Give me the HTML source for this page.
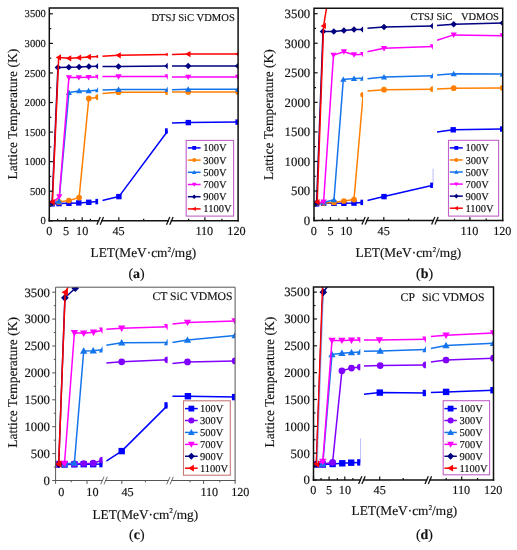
<!DOCTYPE html>
<html><head><meta charset="utf-8"><title>Lattice Temperature vs LET</title>
<style>html,body{margin:0;padding:0;background:#fff;width:517px;height:550px;overflow:hidden}svg{display:block;text-rendering:geometricPrecision}</style>
</head><body>
<svg width="517" height="550" viewBox="0 0 517 550">
<rect width="517" height="550" fill="#fff"/>
<clipPath id="c0">
<rect x="49.3" y="8" width="48.8" height="212.8"/>
<rect x="102.3" y="8" width="65.4" height="212.8"/>
<rect x="171.9" y="8" width="66.2" height="212.8"/>
</clipPath>
<clipPath id="f0"><rect x="49.3" y="8" width="188.8" height="212.8"/></clipPath>
<g clip-path="url(#c0)">
<polyline points="52.1,203.9 59,203.6 68.9,203.3 78.8,202.9 88.8,202.3 98.1,201.6" fill="none" stroke="#0000ff" stroke-width="1.5" stroke-linejoin="round"/>
<polyline points="102.3,200.4 118.9,196.6 167.7,131" fill="none" stroke="#0000ff" stroke-width="1.5" stroke-linejoin="round"/>
<polyline points="171.8,123 188.3,122.6 238.1,122.1" fill="none" stroke="#0000ff" stroke-width="1.5" stroke-linejoin="round"/>
<rect x="49.4" y="201.2" width="5.4" height="5.4" fill="#0000ff"/>
<rect x="56.3" y="200.9" width="5.4" height="5.4" fill="#0000ff"/>
<rect x="66.2" y="200.6" width="5.4" height="5.4" fill="#0000ff"/>
<rect x="76.1" y="200.2" width="5.4" height="5.4" fill="#0000ff"/>
<rect x="86.1" y="199.6" width="5.4" height="5.4" fill="#0000ff"/>
<rect x="95.4" y="198.9" width="5.4" height="5.4" fill="#0000ff"/>
<rect x="116.2" y="193.9" width="5.4" height="5.4" fill="#0000ff"/>
<rect x="165" y="128.3" width="5.4" height="5.4" fill="#0000ff"/>
<rect x="185.6" y="119.9" width="5.4" height="5.4" fill="#0000ff"/>
<rect x="235.4" y="119.4" width="5.4" height="5.4" fill="#0000ff"/>
<polyline points="52.1,203 59,201.9 68.9,200.5 79.1,197.6 88.8,98.4 98.1,97.2" fill="none" stroke="#ff8000" stroke-width="1.5" stroke-linejoin="round"/>
<polyline points="102.3,93.6 118.5,92.2 167.7,92.2" fill="none" stroke="#ff8000" stroke-width="1.5" stroke-linejoin="round"/>
<polyline points="171.9,92 188.2,92 238.1,92" fill="none" stroke="#ff8000" stroke-width="1.5" stroke-linejoin="round"/>
<circle cx="52.1" cy="203" r="2.84" fill="#ff8000"/>
<circle cx="59" cy="201.9" r="2.84" fill="#ff8000"/>
<circle cx="68.9" cy="200.5" r="2.84" fill="#ff8000"/>
<circle cx="79.1" cy="197.6" r="2.84" fill="#ff8000"/>
<circle cx="88.8" cy="98.4" r="2.84" fill="#ff8000"/>
<circle cx="98.1" cy="97.2" r="2.84" fill="#ff8000"/>
<circle cx="118.5" cy="92.2" r="2.84" fill="#ff8000"/>
<circle cx="167.7" cy="92.2" r="2.84" fill="#ff8000"/>
<circle cx="188.2" cy="92" r="2.84" fill="#ff8000"/>
<circle cx="238.1" cy="92" r="2.84" fill="#ff8000"/>
<polyline points="52.1,203 59,201.3 68.9,92.6 79.1,90.9 88.6,90.9 98.1,90" fill="none" stroke="#1474ec" stroke-width="1.5" stroke-linejoin="round"/>
<polyline points="102.3,90.1 118.5,89.6 167.7,89.6" fill="none" stroke="#1474ec" stroke-width="1.5" stroke-linejoin="round"/>
<polyline points="171.9,89.8 188.2,89.3 238.1,89.3" fill="none" stroke="#1474ec" stroke-width="1.5" stroke-linejoin="round"/>
<polygon points="52.1,199.9 55.2,205.33 49,205.33" fill="#1474ec"/>
<polygon points="59,198.2 62.1,203.63 55.9,203.63" fill="#1474ec"/>
<polygon points="68.9,89.49 72.01,94.93 65.8,94.93" fill="#1474ec"/>
<polygon points="79.1,87.8 82.2,93.23 75.99,93.23" fill="#1474ec"/>
<polygon points="88.6,87.8 91.7,93.23 85.49,93.23" fill="#1474ec"/>
<polygon points="98.1,86.89 101.2,92.33 94.99,92.33" fill="#1474ec"/>
<polygon points="118.5,86.49 121.61,91.93 115.39,91.93" fill="#1474ec"/>
<polygon points="167.7,86.49 170.8,91.93 164.59,91.93" fill="#1474ec"/>
<polygon points="188.2,86.19 191.3,91.63 185.09,91.63" fill="#1474ec"/>
<polygon points="238.1,86.19 241.2,91.63 235,91.63" fill="#1474ec"/>
<polyline points="52.1,203 59.3,196.7 68.9,77.5 78.8,77.5 88.6,77.3 98.1,77" fill="none" stroke="#ff00ff" stroke-width="1.5" stroke-linejoin="round"/>
<polyline points="102.3,76.6 118.5,76.6 167.7,76.6" fill="none" stroke="#ff00ff" stroke-width="1.5" stroke-linejoin="round"/>
<polyline points="171.9,77 188.2,77 238.1,77" fill="none" stroke="#ff00ff" stroke-width="1.5" stroke-linejoin="round"/>
<polygon points="52.1,206.1 55.2,200.67 49,200.67" fill="#ff00ff"/>
<polygon points="59.3,199.8 62.4,194.37 56.2,194.37" fill="#ff00ff"/>
<polygon points="68.9,80.61 72.01,75.17 65.8,75.17" fill="#ff00ff"/>
<polygon points="78.8,80.61 81.91,75.17 75.69,75.17" fill="#ff00ff"/>
<polygon points="88.6,80.41 91.7,74.97 85.49,74.97" fill="#ff00ff"/>
<polygon points="98.1,80.11 101.2,74.67 94.99,74.67" fill="#ff00ff"/>
<polygon points="118.5,79.7 121.61,74.27 115.39,74.27" fill="#ff00ff"/>
<polygon points="167.7,79.7 170.8,74.27 164.59,74.27" fill="#ff00ff"/>
<polygon points="188.2,80.11 191.3,74.67 185.09,74.67" fill="#ff00ff"/>
<polygon points="238.1,80.11 241.2,74.67 235,74.67" fill="#ff00ff"/>
<polyline points="52.1,203 57.9,67.6 68.9,67.2 79.1,67 88.9,66.4 98.1,66.2" fill="none" stroke="#000080" stroke-width="1.5" stroke-linejoin="round"/>
<polyline points="102.3,66.5 118.5,66.5 167.7,66.1" fill="none" stroke="#000080" stroke-width="1.5" stroke-linejoin="round"/>
<polyline points="171.9,66.1 188.2,66.1 238.1,66.1" fill="none" stroke="#000080" stroke-width="1.5" stroke-linejoin="round"/>
<polygon points="52.1,199.76 55.34,203 52.1,206.24 48.86,203" fill="#000080"/>
<polygon points="57.9,64.36 61.14,67.6 57.9,70.84 54.66,67.6" fill="#000080"/>
<polygon points="68.9,63.96 72.14,67.2 68.9,70.44 65.66,67.2" fill="#000080"/>
<polygon points="79.1,63.76 82.34,67 79.1,70.24 75.86,67" fill="#000080"/>
<polygon points="88.9,63.16 92.14,66.4 88.9,69.64 85.66,66.4" fill="#000080"/>
<polygon points="98.1,62.96 101.34,66.2 98.1,69.44 94.86,66.2" fill="#000080"/>
<polygon points="118.5,63.26 121.74,66.5 118.5,69.74 115.26,66.5" fill="#000080"/>
<polygon points="167.7,62.86 170.94,66.1 167.7,69.34 164.46,66.1" fill="#000080"/>
<polygon points="188.2,62.86 191.44,66.1 188.2,69.34 184.96,66.1" fill="#000080"/>
<polygon points="238.1,62.86 241.34,66.1 238.1,69.34 234.86,66.1" fill="#000080"/>
<polyline points="52.4,202.1 58.7,57.4 68.9,58.3 78.8,57.7 88.6,56.9 98.1,56.6" fill="none" stroke="#ff0000" stroke-width="1.5" stroke-linejoin="round"/>
<polyline points="102.3,56.2 118.5,55.3 167.7,54.4" fill="none" stroke="#ff0000" stroke-width="1.5" stroke-linejoin="round"/>
<polyline points="171.9,54.5 188.2,54.1 238.1,54.1" fill="none" stroke="#ff0000" stroke-width="1.5" stroke-linejoin="round"/>
<polygon points="49.3,202.1 54.73,199 54.73,205.2" fill="#ff0000"/>
<polygon points="55.6,57.4 61.03,54.3 61.03,60.5" fill="#ff0000"/>
<polygon points="65.8,58.3 71.23,55.2 71.23,61.4" fill="#ff0000"/>
<polygon points="75.69,57.7 81.13,54.6 81.13,60.8" fill="#ff0000"/>
<polygon points="85.49,56.9 90.93,53.8 90.93,60" fill="#ff0000"/>
<polygon points="94.99,56.6 100.43,53.5 100.43,59.7" fill="#ff0000"/>
<polygon points="115.39,55.3 120.83,52.2 120.83,58.4" fill="#ff0000"/>
<polygon points="164.59,54.4 170.03,51.3 170.03,57.5" fill="#ff0000"/>
<polygon points="185.09,54.1 190.53,51 190.53,57.2" fill="#ff0000"/>
<polygon points="235,54.1 240.43,51 240.43,57.2" fill="#ff0000"/>
</g>
<g stroke="#111" stroke-width="1.5" fill="none" stroke-linecap="square">
<polyline points="49.3,220.8 49.3,8 238.1,8 238.1,220.8"/>
<line x1="49.3" y1="220.8" x2="98.55" y2="220.8"/>
<line x1="101.85" y1="220.8" x2="168.15" y2="220.8"/>
<line x1="171.45" y1="220.8" x2="238.1" y2="220.8"/>
</g>
<g stroke="#111" stroke-width="1.27" fill="none">
<line x1="100.2" y1="217.1" x2="96.9" y2="224.7"/>
<line x1="103.5" y1="217.1" x2="100.2" y2="224.7"/>
<line x1="169.8" y1="217.1" x2="166.5" y2="224.7"/>
<line x1="173.1" y1="217.1" x2="169.8" y2="224.7"/>
</g>
<g stroke="#111" stroke-width="1.2">
<line x1="49.3" y1="220.8" x2="49.3" y2="217.2"/>
<line x1="57.6" y1="220.8" x2="57.6" y2="218.8"/>
<line x1="65.8" y1="220.8" x2="65.8" y2="217.2"/>
<line x1="74" y1="220.8" x2="74" y2="218.8"/>
<line x1="82.2" y1="220.8" x2="82.2" y2="217.2"/>
<line x1="90.4" y1="220.8" x2="90.4" y2="218.8"/>
<line x1="118.8" y1="220.8" x2="118.8" y2="217.2"/>
<line x1="143.7" y1="220.8" x2="143.7" y2="218.8"/>
<line x1="188.6" y1="220.8" x2="188.6" y2="218.8"/>
<line x1="204.9" y1="220.8" x2="204.9" y2="217.2"/>
<line x1="221.9" y1="220.8" x2="221.9" y2="218.8"/>
<line x1="49.3" y1="220.8" x2="52.9" y2="220.8"/>
<line x1="49.3" y1="206.02" x2="51.3" y2="206.02"/>
<line x1="49.3" y1="191.23" x2="52.9" y2="191.23"/>
<line x1="49.3" y1="176.45" x2="51.3" y2="176.45"/>
<line x1="49.3" y1="161.66" x2="52.9" y2="161.66"/>
<line x1="49.3" y1="146.88" x2="51.3" y2="146.88"/>
<line x1="49.3" y1="132.09" x2="52.9" y2="132.09"/>
<line x1="49.3" y1="117.31" x2="51.3" y2="117.31"/>
<line x1="49.3" y1="102.52" x2="52.9" y2="102.52"/>
<line x1="49.3" y1="87.74" x2="51.3" y2="87.74"/>
<line x1="49.3" y1="72.95" x2="52.9" y2="72.95"/>
<line x1="49.3" y1="58.17" x2="51.3" y2="58.17"/>
<line x1="49.3" y1="43.38" x2="52.9" y2="43.38"/>
<line x1="49.3" y1="28.59" x2="51.3" y2="28.59"/>
<line x1="49.3" y1="13.81" x2="52.9" y2="13.81"/>
</g>
<g font-family='"Liberation Serif", "Times New Roman", serif' fill="#111" stroke="#111" stroke-width="0.16">
<text x="45.8" y="224.4" font-size="10.6" text-anchor="end">0</text>
<text x="45.8" y="194.83" font-size="10.6" text-anchor="end">500</text>
<text x="45.8" y="165.26" font-size="10.6" text-anchor="end">1000</text>
<text x="45.8" y="135.69" font-size="10.6" text-anchor="end">1500</text>
<text x="45.8" y="106.12" font-size="10.6" text-anchor="end">2000</text>
<text x="45.8" y="76.55" font-size="10.6" text-anchor="end">2500</text>
<text x="45.8" y="46.98" font-size="10.6" text-anchor="end">3000</text>
<text x="45.8" y="17.41" font-size="10.6" text-anchor="end">3500</text>
<text x="49.3" y="234.9" font-size="12.2" text-anchor="middle">0</text>
<text x="66" y="234.9" font-size="12.2" text-anchor="middle">5</text>
<text x="82.2" y="234.9" font-size="12.2" text-anchor="middle">10</text>
<text x="118.6" y="234.9" font-size="12.2" text-anchor="middle">45</text>
<text x="204.3" y="234.9" font-size="12.2" text-anchor="middle">110</text>
<text x="236.5" y="234.9" font-size="12.2" text-anchor="middle">120</text>
<text x="143.4" y="257" font-size="13.3" text-anchor="middle">LET(MeV·cm<tspan font-size="7.45" dy="-5.4">2</tspan><tspan dy="5.4">/mg)</tspan></text>
<text transform="translate(17.1,114.2) rotate(-90)" font-size="13.5" text-anchor="middle">Lattice Temperature (K)</text>
<text x="136.5" y="278" font-size="13.9" text-anchor="middle">(<tspan font-weight="bold">a</tspan>)</text>
<text x="234.8" y="20.5" font-size="10.6" text-anchor="end">DTSJ SiC VDMOS</text>
</g>
<rect x="186.2" y="140.4" width="47.4" height="75.7" fill="#fff" stroke="#c060c8" stroke-width="1.1"/>
<g font-family='"Liberation Serif", "Times New Roman", serif' fill="#111" font-size="10.5">
<line x1="187.8" y1="147.9" x2="200.6" y2="147.9" stroke="#0000ff" stroke-width="1.5"/>
<rect x="192.3" y="146" width="3.8" height="3.8" fill="#0000ff"/>
<text x="203.3" y="151.47" stroke="#111" stroke-width="0.16">100V</text>
<line x1="187.8" y1="160.1" x2="200.6" y2="160.1" stroke="#ff8000" stroke-width="1.5"/>
<circle cx="194.2" cy="160.1" r="1.99" fill="#ff8000"/>
<text x="203.3" y="163.67" stroke="#111" stroke-width="0.16">300V</text>
<line x1="187.8" y1="172.3" x2="200.6" y2="172.3" stroke="#1474ec" stroke-width="1.5"/>
<polygon points="194.2,170.12 196.38,173.94 192.01,173.94" fill="#1474ec"/>
<text x="203.3" y="175.87" stroke="#111" stroke-width="0.16">500V</text>
<line x1="187.8" y1="184.5" x2="200.6" y2="184.5" stroke="#ff00ff" stroke-width="1.5"/>
<polygon points="194.2,186.69 196.38,182.86 192.01,182.86" fill="#ff00ff"/>
<text x="203.3" y="188.07" stroke="#111" stroke-width="0.16">700V</text>
<line x1="187.8" y1="196.7" x2="200.6" y2="196.7" stroke="#000080" stroke-width="1.5"/>
<polygon points="194.2,194.42 196.48,196.7 194.2,198.98 191.92,196.7" fill="#000080"/>
<text x="203.3" y="200.27" stroke="#111" stroke-width="0.16">900V</text>
<line x1="187.8" y1="208.9" x2="200.6" y2="208.9" stroke="#ff0000" stroke-width="1.5"/>
<polygon points="192.01,208.9 195.84,206.72 195.84,211.09" fill="#ff0000"/>
<text x="203.3" y="212.47" stroke="#111" stroke-width="0.16">1100V</text>
</g>
<clipPath id="c1">
<rect x="314" y="8.2" width="49.1" height="212.4"/>
<rect x="367.3" y="8.2" width="65.6" height="212.4"/>
<rect x="437" y="8.2" width="65.7" height="212.4"/>
</clipPath>
<clipPath id="f1"><rect x="314" y="8.2" width="188.7" height="212.4"/></clipPath>
<g clip-path="url(#c1)">
<polyline points="316.6,203.9 323.6,203.3 334,203.3 343.9,203.3 354,203.1 363.1,202.4" fill="none" stroke="#0000ff" stroke-width="1.5" stroke-linejoin="round"/>
<polyline points="367.3,200.6 384,196.6 432.9,185.3" fill="none" stroke="#0000ff" stroke-width="1.5" stroke-linejoin="round"/>
<polyline points="437,132.1 453.2,129.8 502.7,129" fill="none" stroke="#0000ff" stroke-width="1.5" stroke-linejoin="round"/>
<rect x="313.9" y="201.2" width="5.4" height="5.4" fill="#0000ff"/>
<rect x="320.9" y="200.6" width="5.4" height="5.4" fill="#0000ff"/>
<rect x="331.3" y="200.6" width="5.4" height="5.4" fill="#0000ff"/>
<rect x="341.2" y="200.6" width="5.4" height="5.4" fill="#0000ff"/>
<rect x="351.3" y="200.4" width="5.4" height="5.4" fill="#0000ff"/>
<rect x="360.4" y="199.7" width="5.4" height="5.4" fill="#0000ff"/>
<rect x="381.3" y="193.9" width="5.4" height="5.4" fill="#0000ff"/>
<rect x="430.2" y="182.6" width="5.4" height="5.4" fill="#0000ff"/>
<rect x="450.5" y="127.1" width="5.4" height="5.4" fill="#0000ff"/>
<rect x="500" y="126.3" width="5.4" height="5.4" fill="#0000ff"/>
<polyline points="316.6,203 323.6,203 334,202.4 343.9,201 354,199.6 363.1,94.8" fill="none" stroke="#ff8000" stroke-width="1.5" stroke-linejoin="round"/>
<polyline points="367.3,91 384,89.7 432.9,89.2" fill="none" stroke="#ff8000" stroke-width="1.5" stroke-linejoin="round"/>
<polyline points="437,88.9 453.7,88.2 502.7,87.9" fill="none" stroke="#ff8000" stroke-width="1.5" stroke-linejoin="round"/>
<circle cx="316.6" cy="203" r="2.84" fill="#ff8000"/>
<circle cx="323.6" cy="203" r="2.84" fill="#ff8000"/>
<circle cx="334" cy="202.4" r="2.84" fill="#ff8000"/>
<circle cx="343.9" cy="201" r="2.84" fill="#ff8000"/>
<circle cx="354" cy="199.6" r="2.84" fill="#ff8000"/>
<circle cx="363.1" cy="94.8" r="2.84" fill="#ff8000"/>
<circle cx="384" cy="89.7" r="2.84" fill="#ff8000"/>
<circle cx="432.9" cy="89.2" r="2.84" fill="#ff8000"/>
<circle cx="453.7" cy="88.2" r="2.84" fill="#ff8000"/>
<circle cx="502.7" cy="87.9" r="2.84" fill="#ff8000"/>
<polyline points="316.6,203 323.6,202.5 334,199.8 343.3,79.5 354,78.6 363.1,78.3" fill="none" stroke="#1474ec" stroke-width="1.5" stroke-linejoin="round"/>
<polyline points="367.3,78.8 384,77.1 432.9,75.8" fill="none" stroke="#1474ec" stroke-width="1.5" stroke-linejoin="round"/>
<polyline points="437,75.1 453.7,73.8 502.7,74.1" fill="none" stroke="#1474ec" stroke-width="1.5" stroke-linejoin="round"/>
<polygon points="316.6,199.9 319.71,205.33 313.5,205.33" fill="#1474ec"/>
<polygon points="323.6,199.4 326.71,204.83 320.5,204.83" fill="#1474ec"/>
<polygon points="334,196.7 337.11,202.13 330.89,202.13" fill="#1474ec"/>
<polygon points="343.3,76.39 346.41,81.83 340.19,81.83" fill="#1474ec"/>
<polygon points="354,75.49 357.11,80.93 350.89,80.93" fill="#1474ec"/>
<polygon points="363.1,75.19 366.21,80.63 360,80.63" fill="#1474ec"/>
<polygon points="384,73.99 387.11,79.43 380.89,79.43" fill="#1474ec"/>
<polygon points="432.9,72.69 436,78.13 429.79,78.13" fill="#1474ec"/>
<polygon points="453.7,70.69 456.81,76.13 450.59,76.13" fill="#1474ec"/>
<polygon points="502.7,70.99 505.81,76.43 499.59,76.43" fill="#1474ec"/>
<polyline points="316.6,203 323.6,201.9 333.5,55.1 343.9,51.7 354,54.7 363.1,54.3" fill="none" stroke="#ff00ff" stroke-width="1.5" stroke-linejoin="round"/>
<polyline points="367.3,51.8 384,48.3 432.9,46.6" fill="none" stroke="#ff00ff" stroke-width="1.5" stroke-linejoin="round"/>
<polyline points="437,40.3 453.7,34.9 502.7,35.7" fill="none" stroke="#ff00ff" stroke-width="1.5" stroke-linejoin="round"/>
<polygon points="316.6,206.1 319.71,200.67 313.5,200.67" fill="#ff00ff"/>
<polygon points="323.6,205 326.71,199.57 320.5,199.57" fill="#ff00ff"/>
<polygon points="333.5,58.2 336.61,52.77 330.39,52.77" fill="#ff00ff"/>
<polygon points="343.9,54.8 347,49.37 340.79,49.37" fill="#ff00ff"/>
<polygon points="354,57.8 357.11,52.37 350.89,52.37" fill="#ff00ff"/>
<polygon points="363.1,57.4 366.21,51.97 360,51.97" fill="#ff00ff"/>
<polygon points="384,51.4 387.11,45.97 380.89,45.97" fill="#ff00ff"/>
<polygon points="432.9,49.7 436,44.27 429.79,44.27" fill="#ff00ff"/>
<polygon points="453.7,38 456.81,32.57 450.59,32.57" fill="#ff00ff"/>
<polygon points="502.7,38.8 505.81,33.37 499.59,33.37" fill="#ff00ff"/>
<polyline points="316.6,203 323,31.5 333.8,31.5 343.9,30.5 354,29.6 363.1,29.4" fill="none" stroke="#000080" stroke-width="1.5" stroke-linejoin="round"/>
<polyline points="367.3,28.3 384,27.1 432.9,26" fill="none" stroke="#000080" stroke-width="1.5" stroke-linejoin="round"/>
<polyline points="437,25.5 453.7,24.2 502.7,23.1" fill="none" stroke="#000080" stroke-width="1.5" stroke-linejoin="round"/>
<polygon points="316.6,199.76 319.84,203 316.6,206.24 313.36,203" fill="#000080"/>
<polygon points="323,28.26 326.24,31.5 323,34.74 319.76,31.5" fill="#000080"/>
<polygon points="333.8,28.26 337.04,31.5 333.8,34.74 330.56,31.5" fill="#000080"/>
<polygon points="343.9,27.26 347.14,30.5 343.9,33.74 340.66,30.5" fill="#000080"/>
<polygon points="354,26.36 357.24,29.6 354,32.84 350.76,29.6" fill="#000080"/>
<polygon points="363.1,26.16 366.34,29.4 363.1,32.64 359.86,29.4" fill="#000080"/>
<polygon points="384,23.86 387.24,27.1 384,30.34 380.76,27.1" fill="#000080"/>
<polygon points="432.9,22.76 436.14,26 432.9,29.24 429.66,26" fill="#000080"/>
<polygon points="453.7,20.96 456.94,24.2 453.7,27.44 450.46,24.2" fill="#000080"/>
<polygon points="502.7,19.86 505.94,23.1 502.7,26.34 499.46,23.1" fill="#000080"/>
<polyline points="317.2,202.1 323.6,25.9 329.5,-10" fill="none" stroke="#ff0000" stroke-width="1.5" stroke-linejoin="round"/>
<polygon points="314.09,202.1 319.53,199 319.53,205.2" fill="#ff0000"/>
<polygon points="320.5,25.9 325.93,22.79 325.93,29" fill="#ff0000"/>
</g>
<line x1="433.1" y1="185.3" x2="433.1" y2="168.7" stroke="#0000ff" stroke-opacity="0.35" stroke-width="0.8"/>
<g stroke="#111" stroke-width="1.5" fill="none" stroke-linecap="square">
<polyline points="314,220.6 314,8.2 502.7,8.2 502.7,220.6"/>
<line x1="314" y1="220.6" x2="363.55" y2="220.6"/>
<line x1="366.85" y1="220.6" x2="433.25" y2="220.6"/>
<line x1="436.55" y1="220.6" x2="502.7" y2="220.6"/>
</g>
<g stroke="#111" stroke-width="1.27" fill="none">
<line x1="365.2" y1="216.9" x2="361.9" y2="224.5"/>
<line x1="368.5" y1="216.9" x2="365.2" y2="224.5"/>
<line x1="434.9" y1="216.9" x2="431.6" y2="224.5"/>
<line x1="438.2" y1="216.9" x2="434.9" y2="224.5"/>
</g>
<g stroke="#111" stroke-width="1.2">
<line x1="314.1" y1="220.6" x2="314.1" y2="217"/>
<line x1="322.4" y1="220.6" x2="322.4" y2="218.6"/>
<line x1="330.5" y1="220.6" x2="330.5" y2="217"/>
<line x1="338.8" y1="220.6" x2="338.8" y2="218.6"/>
<line x1="347.2" y1="220.6" x2="347.2" y2="217"/>
<line x1="355.7" y1="220.6" x2="355.7" y2="218.6"/>
<line x1="383.8" y1="220.6" x2="383.8" y2="217"/>
<line x1="408.6" y1="220.6" x2="408.6" y2="218.6"/>
<line x1="454.5" y1="220.6" x2="454.5" y2="218.6"/>
<line x1="469.9" y1="220.6" x2="469.9" y2="217"/>
<line x1="486.2" y1="220.6" x2="486.2" y2="218.6"/>
<line x1="314" y1="220.6" x2="317.6" y2="220.6"/>
<line x1="314" y1="205.82" x2="316" y2="205.82"/>
<line x1="314" y1="191.04" x2="317.6" y2="191.04"/>
<line x1="314" y1="176.26" x2="316" y2="176.26"/>
<line x1="314" y1="161.48" x2="317.6" y2="161.48"/>
<line x1="314" y1="146.7" x2="316" y2="146.7"/>
<line x1="314" y1="131.92" x2="317.6" y2="131.92"/>
<line x1="314" y1="117.14" x2="316" y2="117.14"/>
<line x1="314" y1="102.36" x2="317.6" y2="102.36"/>
<line x1="314" y1="87.58" x2="316" y2="87.58"/>
<line x1="314" y1="72.8" x2="317.6" y2="72.8"/>
<line x1="314" y1="58.02" x2="316" y2="58.02"/>
<line x1="314" y1="43.24" x2="317.6" y2="43.24"/>
<line x1="314" y1="28.46" x2="316" y2="28.46"/>
<line x1="314" y1="13.68" x2="317.6" y2="13.68"/>
</g>
<g font-family='"Liberation Serif", "Times New Roman", serif' fill="#111" stroke="#111" stroke-width="0.16">
<text x="310.2" y="224.95" font-size="12.8" text-anchor="end">0</text>
<text x="310.2" y="195.39" font-size="12.8" text-anchor="end">500</text>
<text x="310.2" y="165.83" font-size="12.8" text-anchor="end">1000</text>
<text x="310.2" y="136.27" font-size="12.8" text-anchor="end">1500</text>
<text x="310.2" y="106.71" font-size="12.8" text-anchor="end">2000</text>
<text x="310.2" y="77.15" font-size="12.8" text-anchor="end">2500</text>
<text x="310.2" y="47.59" font-size="12.8" text-anchor="end">3000</text>
<text x="310.2" y="18.03" font-size="12.8" text-anchor="end">3500</text>
<text x="313.7" y="235.2" font-size="12.2" text-anchor="middle">0</text>
<text x="330.5" y="235.2" font-size="12.2" text-anchor="middle">5</text>
<text x="346.3" y="235.2" font-size="12.2" text-anchor="middle">10</text>
<text x="383.7" y="235.2" font-size="12.2" text-anchor="middle">45</text>
<text x="469.5" y="235.2" font-size="12.2" text-anchor="middle">110</text>
<text x="502.3" y="235.2" font-size="12.2" text-anchor="middle">120</text>
<text x="408.4" y="257" font-size="13.3" text-anchor="middle">LET(MeV·cm<tspan font-size="7.45" dy="-5.4">2</tspan><tspan dy="5.4">/mg)</tspan></text>
<text transform="translate(273,114.5) rotate(-90)" font-size="13.5" text-anchor="middle">Lattice Temperature (K)</text>
<text x="424.6" y="278" font-size="13.9" text-anchor="middle">(<tspan font-weight="bold">b</tspan>)</text>
<text x="452.3" y="19.6" font-size="10.5" text-anchor="end">CTSJ SiC</text>
<text x="498.9" y="19.6" font-size="10.5" text-anchor="end">VDMOS</text>
</g>
<rect x="448.5" y="140.3" width="50.1" height="75.8" fill="#fff" stroke="#c060c8" stroke-width="1.1"/>
<g font-family='"Liberation Serif", "Times New Roman", serif' fill="#111" font-size="10.5">
<line x1="449.8" y1="147.9" x2="462.8" y2="147.9" stroke="#0000ff" stroke-width="1.5"/>
<rect x="454.4" y="146" width="3.8" height="3.8" fill="#0000ff"/>
<text x="465.5" y="151.47" stroke="#111" stroke-width="0.16">100V</text>
<line x1="449.8" y1="159.96" x2="462.8" y2="159.96" stroke="#ff8000" stroke-width="1.5"/>
<circle cx="456.3" cy="159.96" r="1.99" fill="#ff8000"/>
<text x="465.5" y="163.53" stroke="#111" stroke-width="0.16">300V</text>
<line x1="449.8" y1="172.02" x2="462.8" y2="172.02" stroke="#1474ec" stroke-width="1.5"/>
<polygon points="456.3,169.84 458.49,173.66 454.12,173.66" fill="#1474ec"/>
<text x="465.5" y="175.59" stroke="#111" stroke-width="0.16">500V</text>
<line x1="449.8" y1="184.08" x2="462.8" y2="184.08" stroke="#ff00ff" stroke-width="1.5"/>
<polygon points="456.3,186.27 458.49,182.44 454.12,182.44" fill="#ff00ff"/>
<text x="465.5" y="187.65" stroke="#111" stroke-width="0.16">700V</text>
<line x1="449.8" y1="196.14" x2="462.8" y2="196.14" stroke="#000080" stroke-width="1.5"/>
<polygon points="456.3,193.86 458.58,196.14 456.3,198.42 454.02,196.14" fill="#000080"/>
<text x="465.5" y="199.71" stroke="#111" stroke-width="0.16">900V</text>
<line x1="449.8" y1="208.2" x2="462.8" y2="208.2" stroke="#ff0000" stroke-width="1.5"/>
<polygon points="454.12,208.2 457.94,206.02 457.94,210.39" fill="#ff0000"/>
<text x="465.5" y="211.77" stroke="#111" stroke-width="0.16">1100V</text>
</g>
<clipPath id="c2">
<rect x="55.6" y="287.2" width="46.9" height="193.3"/>
<rect x="106.2" y="287.2" width="61.4" height="193.3"/>
<rect x="172.2" y="287.2" width="62.9" height="193.3"/>
</clipPath>
<clipPath id="f2"><rect x="55.6" y="287.2" width="179.5" height="193.3"/></clipPath>
<g clip-path="url(#c2)">
<polyline points="57,464.5 64.5,464.5 74.4,464.3 83.7,464.2 93.2,464.2 102.5,464.1" fill="none" stroke="#0000ff" stroke-width="1.5" stroke-linejoin="round"/>
<polyline points="106.2,461.1 121.7,451.1 167.6,405.4" fill="none" stroke="#0000ff" stroke-width="1.5" stroke-linejoin="round"/>
<polyline points="172.3,396.2 187.9,396.2 235.1,397.1" fill="none" stroke="#0000ff" stroke-width="1.5" stroke-linejoin="round"/>
<rect x="53.8" y="461.3" width="6.4" height="6.4" fill="#0000ff"/>
<rect x="61.3" y="461.3" width="6.4" height="6.4" fill="#0000ff"/>
<rect x="71.2" y="461.1" width="6.4" height="6.4" fill="#0000ff"/>
<rect x="80.5" y="461" width="6.4" height="6.4" fill="#0000ff"/>
<rect x="90" y="461" width="6.4" height="6.4" fill="#0000ff"/>
<rect x="99.3" y="460.9" width="6.4" height="6.4" fill="#0000ff"/>
<rect x="118.5" y="447.9" width="6.4" height="6.4" fill="#0000ff"/>
<rect x="164.4" y="402.2" width="6.4" height="6.4" fill="#0000ff"/>
<rect x="184.7" y="393" width="6.4" height="6.4" fill="#0000ff"/>
<rect x="231.9" y="393.9" width="6.4" height="6.4" fill="#0000ff"/>
<polyline points="57,464 64.5,464 74.4,463.8 83.7,463.5 93.2,463.2 102.5,460" fill="none" stroke="#8000ff" stroke-width="1.5" stroke-linejoin="round"/>
<polyline points="106.2,362.9 121.7,361.8 167.6,359.8" fill="none" stroke="#8000ff" stroke-width="1.5" stroke-linejoin="round"/>
<polyline points="172.3,363.5 187.5,361.9 235.1,360.9" fill="none" stroke="#8000ff" stroke-width="1.5" stroke-linejoin="round"/>
<circle cx="57" cy="464" r="3.36" fill="#8000ff"/>
<circle cx="64.5" cy="464" r="3.36" fill="#8000ff"/>
<circle cx="74.4" cy="463.8" r="3.36" fill="#8000ff"/>
<circle cx="83.7" cy="463.5" r="3.36" fill="#8000ff"/>
<circle cx="93.2" cy="463.2" r="3.36" fill="#8000ff"/>
<circle cx="102.5" cy="460" r="3.36" fill="#8000ff"/>
<circle cx="121.7" cy="361.8" r="3.36" fill="#8000ff"/>
<circle cx="167.6" cy="359.8" r="3.36" fill="#8000ff"/>
<circle cx="187.5" cy="361.9" r="3.36" fill="#8000ff"/>
<circle cx="235.1" cy="360.9" r="3.36" fill="#8000ff"/>
<polyline points="57,464 64.5,464 74.4,462.9 83.7,351 93.2,350.7 102.5,349.7" fill="none" stroke="#1474ec" stroke-width="1.5" stroke-linejoin="round"/>
<polyline points="106.2,345.3 121.7,342.8 167.6,342.5" fill="none" stroke="#1474ec" stroke-width="1.5" stroke-linejoin="round"/>
<polyline points="172.3,342.4 187.5,340.1 235.1,335.5" fill="none" stroke="#1474ec" stroke-width="1.5" stroke-linejoin="round"/>
<polygon points="57,460.32 60.68,466.76 53.32,466.76" fill="#1474ec"/>
<polygon points="64.5,460.32 68.18,466.76 60.82,466.76" fill="#1474ec"/>
<polygon points="74.4,459.22 78.08,465.66 70.72,465.66" fill="#1474ec"/>
<polygon points="83.7,347.32 87.38,353.76 80.02,353.76" fill="#1474ec"/>
<polygon points="93.2,347.02 96.88,353.46 89.52,353.46" fill="#1474ec"/>
<polygon points="102.5,346.02 106.18,352.46 98.82,352.46" fill="#1474ec"/>
<polygon points="121.7,339.12 125.38,345.56 118.02,345.56" fill="#1474ec"/>
<polygon points="167.6,338.82 171.28,345.26 163.92,345.26" fill="#1474ec"/>
<polygon points="187.5,336.42 191.18,342.86 183.82,342.86" fill="#1474ec"/>
<polygon points="235.1,331.82 238.78,338.26 231.42,338.26" fill="#1474ec"/>
<polyline points="57,464 64.5,463.5 74.4,332.8 83.7,333.2 93.5,332.2 102.5,330.3" fill="none" stroke="#ff00ff" stroke-width="1.5" stroke-linejoin="round"/>
<polyline points="106.2,329.3 121.7,328.3 167.6,326.7" fill="none" stroke="#ff00ff" stroke-width="1.5" stroke-linejoin="round"/>
<polyline points="172.3,323.9 187.5,322.4 235.1,321" fill="none" stroke="#ff00ff" stroke-width="1.5" stroke-linejoin="round"/>
<polygon points="57,467.68 60.68,461.24 53.32,461.24" fill="#ff00ff"/>
<polygon points="64.5,467.18 68.18,460.74 60.82,460.74" fill="#ff00ff"/>
<polygon points="74.4,336.48 78.08,330.04 70.72,330.04" fill="#ff00ff"/>
<polygon points="83.7,336.88 87.38,330.44 80.02,330.44" fill="#ff00ff"/>
<polygon points="93.5,335.88 97.18,329.44 89.82,329.44" fill="#ff00ff"/>
<polygon points="102.5,333.98 106.18,327.54 98.82,327.54" fill="#ff00ff"/>
<polygon points="121.7,331.98 125.38,325.54 118.02,325.54" fill="#ff00ff"/>
<polygon points="167.6,330.38 171.28,323.94 163.92,323.94" fill="#ff00ff"/>
<polygon points="187.5,326.08 191.18,319.64 183.82,319.64" fill="#ff00ff"/>
<polygon points="235.1,324.68 238.78,318.24 231.42,318.24" fill="#ff00ff"/>
<polyline points="58.7,464.1 64.9,297.8 75.3,288.2 85,278" fill="none" stroke="#000080" stroke-width="1.5" stroke-linejoin="round"/>
<polygon points="58.7,460.26 62.54,464.1 58.7,467.94 54.86,464.1" fill="#000080"/>
<polygon points="64.9,293.96 68.74,297.8 64.9,301.64 61.06,297.8" fill="#000080"/>
<polygon points="75.3,284.36 79.14,288.2 75.3,292.04 71.46,288.2" fill="#000080"/>
<polyline points="58.7,463.9 65.2,292.3 70.9,282" fill="none" stroke="#ff0000" stroke-width="1.5" stroke-linejoin="round"/>
<polygon points="55.02,463.9 61.46,460.22 61.46,467.58" fill="#ff0000"/>
<polygon points="61.52,292.3 67.96,288.62 67.96,295.98" fill="#ff0000"/>
</g>
<g stroke="#555" stroke-width="1" fill="none" stroke-linecap="square">
<polyline points="55.6,480.5 55.6,287.2 235.1,287.2 235.1,480.5"/>
<line x1="55.6" y1="480.5" x2="102.35" y2="480.5"/>
<line x1="105.65" y1="480.5" x2="168.35" y2="480.5"/>
<line x1="171.65" y1="480.5" x2="235.1" y2="480.5"/>
</g>
<g stroke="#555" stroke-width="0.85" fill="none">
<line x1="104" y1="476.8" x2="100.7" y2="484.4"/>
<line x1="107.3" y1="476.8" x2="104" y2="484.4"/>
<line x1="170" y1="476.8" x2="166.7" y2="484.4"/>
<line x1="173.3" y1="476.8" x2="170" y2="484.4"/>
</g>
<g stroke="#555" stroke-width="1">
<line x1="55.6" y1="480.5" x2="55.6" y2="483.9"/>
<line x1="71.2" y1="480.5" x2="71.2" y2="482.3"/>
<line x1="87" y1="480.5" x2="87" y2="483.9"/>
<line x1="121.8" y1="480.5" x2="121.8" y2="483.9"/>
<line x1="145.4" y1="480.5" x2="145.4" y2="482.3"/>
<line x1="190.1" y1="480.5" x2="190.1" y2="482.3"/>
<line x1="203.6" y1="480.5" x2="203.6" y2="483.9"/>
<line x1="219.8" y1="480.5" x2="219.8" y2="482.3"/>
<line x1="235.1" y1="480.5" x2="235.1" y2="483.9"/>
<line x1="55.6" y1="480.5" x2="52.2" y2="480.5"/>
<line x1="55.6" y1="467.05" x2="53.8" y2="467.05"/>
<line x1="55.6" y1="453.6" x2="52.2" y2="453.6"/>
<line x1="55.6" y1="440.15" x2="53.8" y2="440.15"/>
<line x1="55.6" y1="426.7" x2="52.2" y2="426.7"/>
<line x1="55.6" y1="413.25" x2="53.8" y2="413.25"/>
<line x1="55.6" y1="399.8" x2="52.2" y2="399.8"/>
<line x1="55.6" y1="386.35" x2="53.8" y2="386.35"/>
<line x1="55.6" y1="372.9" x2="52.2" y2="372.9"/>
<line x1="55.6" y1="359.45" x2="53.8" y2="359.45"/>
<line x1="55.6" y1="346" x2="52.2" y2="346"/>
<line x1="55.6" y1="332.55" x2="53.8" y2="332.55"/>
<line x1="55.6" y1="319.1" x2="52.2" y2="319.1"/>
<line x1="55.6" y1="305.65" x2="53.8" y2="305.65"/>
<line x1="55.6" y1="292.2" x2="52.2" y2="292.2"/>
</g>
<g font-family='"Liberation Serif", "Times New Roman", serif' fill="#111" stroke="#111" stroke-width="0.16">
<text x="50" y="484.85" font-size="12.8" text-anchor="end">0</text>
<text x="50" y="457.95" font-size="12.8" text-anchor="end">500</text>
<text x="50" y="431.05" font-size="12.8" text-anchor="end">1000</text>
<text x="50" y="404.15" font-size="12.8" text-anchor="end">1500</text>
<text x="50" y="377.25" font-size="12.8" text-anchor="end">2000</text>
<text x="50" y="350.35" font-size="12.8" text-anchor="end">2500</text>
<text x="50" y="323.45" font-size="12.8" text-anchor="end">3000</text>
<text x="50" y="296.55" font-size="12.8" text-anchor="end">3500</text>
<text x="61.3" y="495.8" font-size="12.2" text-anchor="middle">0</text>
<text x="92.4" y="495.8" font-size="12.2" text-anchor="middle">10</text>
<text x="127.5" y="495.8" font-size="12.2" text-anchor="middle">45</text>
<text x="209.3" y="495.8" font-size="12.2" text-anchor="middle">110</text>
<text x="240.3" y="495.8" font-size="12.2" text-anchor="middle">120</text>
<text x="145.3" y="518.7" font-size="13.3" text-anchor="middle">LET(MeV·cm<tspan font-size="7.45" dy="-5.4">2</tspan><tspan dy="5.4">/mg)</tspan></text>
<text transform="translate(16.8,382.4) rotate(-90)" font-size="13.5" text-anchor="middle">Lattice Temperature (K)</text>
<text x="136.8" y="539" font-size="13.9" text-anchor="middle">(<tspan font-weight="bold">c</tspan>)</text>
<text x="232.5" y="300.1" font-size="11.7" text-anchor="end">CT SiC VDMOS</text>
</g>
<rect x="183.5" y="400.8" width="46.8" height="74.4" fill="#fff" stroke="#c87878" stroke-width="1.1"/>
<g font-family='"Liberation Serif", "Times New Roman", serif' fill="#111" font-size="10.5">
<line x1="185" y1="408.6" x2="197.7" y2="408.6" stroke="#0000ff" stroke-width="1.5"/>
<rect x="188.45" y="405.7" width="5.8" height="5.8" fill="#0000ff"/>
<text x="199.9" y="412.17" stroke="#111" stroke-width="0.16">100V</text>
<line x1="185" y1="420.52" x2="197.7" y2="420.52" stroke="#8000ff" stroke-width="1.5"/>
<circle cx="191.35" cy="420.52" r="3.04" fill="#8000ff"/>
<text x="199.9" y="424.09" stroke="#111" stroke-width="0.16">300V</text>
<line x1="185" y1="432.44" x2="197.7" y2="432.44" stroke="#1474ec" stroke-width="1.5"/>
<polygon points="191.35,429.11 194.69,434.94 188.01,434.94" fill="#1474ec"/>
<text x="199.9" y="436.01" stroke="#111" stroke-width="0.16">500V</text>
<line x1="185" y1="444.36" x2="197.7" y2="444.36" stroke="#ff00ff" stroke-width="1.5"/>
<polygon points="191.35,447.69 194.69,441.86 188.01,441.86" fill="#ff00ff"/>
<text x="199.9" y="447.93" stroke="#111" stroke-width="0.16">700V</text>
<line x1="185" y1="456.28" x2="197.7" y2="456.28" stroke="#000080" stroke-width="1.5"/>
<polygon points="191.35,452.8 194.83,456.28 191.35,459.76 187.87,456.28" fill="#000080"/>
<text x="199.9" y="459.85" stroke="#111" stroke-width="0.16">900V</text>
<line x1="185" y1="468.2" x2="197.7" y2="468.2" stroke="#ff0000" stroke-width="1.5"/>
<polygon points="188.01,468.2 193.85,464.87 193.85,471.54" fill="#ff0000"/>
<text x="199.9" y="471.77" stroke="#111" stroke-width="0.16">1100V</text>
</g>
<clipPath id="c3">
<rect x="313.5" y="287.1" width="46.8" height="192.9"/>
<rect x="364" y="287.1" width="61.9" height="192.9"/>
<rect x="430.7" y="287.1" width="62.8" height="192.9"/>
</clipPath>
<clipPath id="f3"><rect x="313.5" y="287.1" width="180" height="192.9"/></clipPath>
<g clip-path="url(#c3)">
<polyline points="316.4,464.5 322.8,464.5 332.6,464 342.3,463.3 351.2,462.7 360.3,462.4" fill="none" stroke="#0000ff" stroke-width="1.5" stroke-linejoin="round"/>
<polyline points="363.9,394.3 379.8,392.6 425.9,393" fill="none" stroke="#0000ff" stroke-width="1.5" stroke-linejoin="round"/>
<polyline points="430.7,392.4 446.1,391.9 493.5,390.2" fill="none" stroke="#0000ff" stroke-width="1.5" stroke-linejoin="round"/>
<rect x="313.2" y="461.3" width="6.4" height="6.4" fill="#0000ff"/>
<rect x="319.6" y="461.3" width="6.4" height="6.4" fill="#0000ff"/>
<rect x="329.4" y="460.8" width="6.4" height="6.4" fill="#0000ff"/>
<rect x="339.1" y="460.1" width="6.4" height="6.4" fill="#0000ff"/>
<rect x="348" y="459.5" width="6.4" height="6.4" fill="#0000ff"/>
<rect x="357.1" y="459.2" width="6.4" height="6.4" fill="#0000ff"/>
<rect x="376.6" y="389.4" width="6.4" height="6.4" fill="#0000ff"/>
<rect x="422.7" y="389.8" width="6.4" height="6.4" fill="#0000ff"/>
<rect x="442.9" y="388.7" width="6.4" height="6.4" fill="#0000ff"/>
<rect x="490.3" y="387" width="6.4" height="6.4" fill="#0000ff"/>
<polyline points="316.4,464 322.8,464 332.6,462.4 341.9,370.8 351.5,368.1 360.3,367.1" fill="none" stroke="#8000ff" stroke-width="1.5" stroke-linejoin="round"/>
<polyline points="363.8,366.1 380.2,365.6 425.9,364.9" fill="none" stroke="#8000ff" stroke-width="1.5" stroke-linejoin="round"/>
<polyline points="430.7,362.1 446,360 493.5,358.2" fill="none" stroke="#8000ff" stroke-width="1.5" stroke-linejoin="round"/>
<circle cx="316.4" cy="464" r="3.36" fill="#8000ff"/>
<circle cx="322.8" cy="464" r="3.36" fill="#8000ff"/>
<circle cx="332.6" cy="462.4" r="3.36" fill="#8000ff"/>
<circle cx="341.9" cy="370.8" r="3.36" fill="#8000ff"/>
<circle cx="351.5" cy="368.1" r="3.36" fill="#8000ff"/>
<circle cx="360.3" cy="367.1" r="3.36" fill="#8000ff"/>
<circle cx="380.2" cy="365.6" r="3.36" fill="#8000ff"/>
<circle cx="425.9" cy="364.9" r="3.36" fill="#8000ff"/>
<circle cx="446" cy="360" r="3.36" fill="#8000ff"/>
<circle cx="493.5" cy="358.2" r="3.36" fill="#8000ff"/>
<polyline points="316.4,464 322.8,464 332,354.4 341.9,353.2 351.5,352.6 360.3,352" fill="none" stroke="#1474ec" stroke-width="1.5" stroke-linejoin="round"/>
<polyline points="363.8,351.3 380.2,351 425.9,349.6" fill="none" stroke="#1474ec" stroke-width="1.5" stroke-linejoin="round"/>
<polyline points="430.7,348.4 446,345.5 493.5,343.3" fill="none" stroke="#1474ec" stroke-width="1.5" stroke-linejoin="round"/>
<polygon points="316.4,460.32 320.08,466.76 312.72,466.76" fill="#1474ec"/>
<polygon points="322.8,460.32 326.48,466.76 319.12,466.76" fill="#1474ec"/>
<polygon points="332,350.72 335.68,357.16 328.32,357.16" fill="#1474ec"/>
<polygon points="341.9,349.52 345.58,355.96 338.22,355.96" fill="#1474ec"/>
<polygon points="351.5,348.92 355.18,355.36 347.82,355.36" fill="#1474ec"/>
<polygon points="360.3,348.32 363.98,354.76 356.62,354.76" fill="#1474ec"/>
<polygon points="380.2,347.32 383.88,353.76 376.52,353.76" fill="#1474ec"/>
<polygon points="425.9,345.92 429.58,352.36 422.22,352.36" fill="#1474ec"/>
<polygon points="446,341.82 449.68,348.26 442.32,348.26" fill="#1474ec"/>
<polygon points="493.5,339.62 497.18,346.06 489.82,346.06" fill="#1474ec"/>
<polyline points="316.4,464 322.8,461.6 332,340.4 341.9,340.4 351.5,340.2 360.3,339.9" fill="none" stroke="#ff00ff" stroke-width="1.5" stroke-linejoin="round"/>
<polyline points="363.8,340 379.4,340 425.9,339.2" fill="none" stroke="#ff00ff" stroke-width="1.5" stroke-linejoin="round"/>
<polyline points="430.7,336.5 446,335.3 493.5,333.1" fill="none" stroke="#ff00ff" stroke-width="1.5" stroke-linejoin="round"/>
<polygon points="316.4,467.68 320.08,461.24 312.72,461.24" fill="#ff00ff"/>
<polygon points="322.8,465.28 326.48,458.84 319.12,458.84" fill="#ff00ff"/>
<polygon points="332,344.08 335.68,337.64 328.32,337.64" fill="#ff00ff"/>
<polygon points="341.9,344.08 345.58,337.64 338.22,337.64" fill="#ff00ff"/>
<polygon points="351.5,343.88 355.18,337.44 347.82,337.44" fill="#ff00ff"/>
<polygon points="360.3,343.58 363.98,337.14 356.62,337.14" fill="#ff00ff"/>
<polygon points="379.4,343.68 383.08,337.24 375.72,337.24" fill="#ff00ff"/>
<polygon points="425.9,342.88 429.58,336.44 422.22,336.44" fill="#ff00ff"/>
<polygon points="446,338.98 449.68,332.54 442.32,332.54" fill="#ff00ff"/>
<polygon points="493.5,336.78 497.18,330.34 489.82,330.34" fill="#ff00ff"/>
<polyline points="316.4,464 322.3,304 323.3,292.2 330,283" fill="none" stroke="#000080" stroke-width="1.5" stroke-linejoin="round"/>
<polygon points="316.4,460.16 320.24,464 316.4,467.84 312.56,464" fill="#000080"/>
<polygon points="323.3,288.36 327.14,292.2 323.3,296.04 319.46,292.2" fill="#000080"/>
<polyline points="316.4,463.9 322.7,282" fill="none" stroke="#ff0000" stroke-width="1.5" stroke-linejoin="round"/>
<polygon points="312.72,463.9 319.16,460.22 319.16,467.58" fill="#ff0000"/>
</g>
<line x1="360.5" y1="462.4" x2="360.5" y2="438.3" stroke="#0000ff" stroke-opacity="0.3" stroke-width="0.8"/>
<line x1="317.4" y1="463" x2="323.4" y2="296" stroke="#9ab8ff" stroke-width="0.7"/>
<g stroke="#111" stroke-width="1.5" fill="none" stroke-linecap="square">
<polyline points="313.5,480 313.5,287.1 493.5,287.1 493.5,480"/>
<line x1="313.5" y1="480" x2="360.25" y2="480"/>
<line x1="363.55" y1="480" x2="426.65" y2="480"/>
<line x1="429.95" y1="480" x2="493.5" y2="480"/>
</g>
<g stroke="#111" stroke-width="1.27" fill="none">
<line x1="361.9" y1="476.3" x2="358.6" y2="483.9"/>
<line x1="365.2" y1="476.3" x2="361.9" y2="483.9"/>
<line x1="428.3" y1="476.3" x2="425" y2="483.9"/>
<line x1="431.6" y1="476.3" x2="428.3" y2="483.9"/>
</g>
<g stroke="#111" stroke-width="1.2">
<line x1="313.5" y1="480" x2="313.5" y2="476.6"/>
<line x1="321" y1="480" x2="321" y2="478"/>
<line x1="329.1" y1="480" x2="329.1" y2="476.6"/>
<line x1="337.3" y1="480" x2="337.3" y2="478"/>
<line x1="344.8" y1="480" x2="344.8" y2="476.6"/>
<line x1="352.9" y1="480" x2="352.9" y2="478"/>
<line x1="379.7" y1="480" x2="379.7" y2="476.6"/>
<line x1="403.2" y1="480" x2="403.2" y2="478"/>
<line x1="446.2" y1="480" x2="446.2" y2="478"/>
<line x1="461.7" y1="480" x2="461.7" y2="476.6"/>
<line x1="477.5" y1="480" x2="477.5" y2="478"/>
<line x1="313.5" y1="480" x2="316.9" y2="480"/>
<line x1="313.5" y1="466.58" x2="315.5" y2="466.58"/>
<line x1="313.5" y1="453.16" x2="316.9" y2="453.16"/>
<line x1="313.5" y1="439.74" x2="315.5" y2="439.74"/>
<line x1="313.5" y1="426.32" x2="316.9" y2="426.32"/>
<line x1="313.5" y1="412.9" x2="315.5" y2="412.9"/>
<line x1="313.5" y1="399.48" x2="316.9" y2="399.48"/>
<line x1="313.5" y1="386.06" x2="315.5" y2="386.06"/>
<line x1="313.5" y1="372.64" x2="316.9" y2="372.64"/>
<line x1="313.5" y1="359.22" x2="315.5" y2="359.22"/>
<line x1="313.5" y1="345.8" x2="316.9" y2="345.8"/>
<line x1="313.5" y1="332.38" x2="315.5" y2="332.38"/>
<line x1="313.5" y1="318.96" x2="316.9" y2="318.96"/>
<line x1="313.5" y1="305.54" x2="315.5" y2="305.54"/>
<line x1="313.5" y1="292.12" x2="316.9" y2="292.12"/>
</g>
<g font-family='"Liberation Serif", "Times New Roman", serif' fill="#111" stroke="#111" stroke-width="0.16">
<text x="309.8" y="484.35" font-size="12.8" text-anchor="end">0</text>
<text x="309.8" y="457.51" font-size="12.8" text-anchor="end">500</text>
<text x="309.8" y="430.67" font-size="12.8" text-anchor="end">1000</text>
<text x="309.8" y="403.83" font-size="12.8" text-anchor="end">1500</text>
<text x="309.8" y="376.99" font-size="12.8" text-anchor="end">2000</text>
<text x="309.8" y="350.15" font-size="12.8" text-anchor="end">2500</text>
<text x="309.8" y="323.31" font-size="12.8" text-anchor="end">3000</text>
<text x="309.8" y="296.47" font-size="12.8" text-anchor="end">3500</text>
<text x="313.2" y="493.5" font-size="12.2" text-anchor="middle">0</text>
<text x="329" y="493.5" font-size="12.2" text-anchor="middle">5</text>
<text x="344.9" y="493.5" font-size="12.2" text-anchor="middle">10</text>
<text x="379.7" y="493.5" font-size="12.2" text-anchor="middle">45</text>
<text x="461.2" y="493.5" font-size="12.2" text-anchor="middle">110</text>
<text x="493.2" y="493.5" font-size="12.2" text-anchor="middle">120</text>
<text x="404.4" y="515.4" font-size="13.3" text-anchor="middle">LET(MeV·cm<tspan font-size="7.45" dy="-5.4">2</tspan><tspan dy="5.4">/mg)</tspan></text>
<text transform="translate(274,382.2) rotate(-90)" font-size="13.5" text-anchor="middle">Lattice Temperature (K)</text>
<text x="424.4" y="538.6" font-size="13.9" text-anchor="middle">(<tspan font-weight="bold">d</tspan>)</text>
<text x="400.6" y="300.5" font-size="11.7" text-anchor="start">CP</text>
<text x="484.4" y="300.5" font-size="11.7" text-anchor="end">SiC VDMOS</text>
</g>
<rect x="443.2" y="400.7" width="46.4" height="74.1" fill="#fff" stroke="#c060c8" stroke-width="1.1"/>
<g font-family='"Liberation Serif", "Times New Roman", serif' fill="#111" font-size="10.5">
<line x1="444.4" y1="408.6" x2="456.8" y2="408.6" stroke="#0000ff" stroke-width="1.5"/>
<rect x="447.7" y="405.7" width="5.8" height="5.8" fill="#0000ff"/>
<text x="459.5" y="412.17" stroke="#111" stroke-width="0.16">100V</text>
<line x1="444.4" y1="420.52" x2="456.8" y2="420.52" stroke="#8000ff" stroke-width="1.5"/>
<circle cx="450.6" cy="420.52" r="3.04" fill="#8000ff"/>
<text x="459.5" y="424.09" stroke="#111" stroke-width="0.16">300V</text>
<line x1="444.4" y1="432.44" x2="456.8" y2="432.44" stroke="#1474ec" stroke-width="1.5"/>
<polygon points="450.6,429.11 453.94,434.94 447.27,434.94" fill="#1474ec"/>
<text x="459.5" y="436.01" stroke="#111" stroke-width="0.16">500V</text>
<line x1="444.4" y1="444.36" x2="456.8" y2="444.36" stroke="#ff00ff" stroke-width="1.5"/>
<polygon points="450.6,447.69 453.94,441.86 447.27,441.86" fill="#ff00ff"/>
<text x="459.5" y="447.93" stroke="#111" stroke-width="0.16">700V</text>
<line x1="444.4" y1="456.28" x2="456.8" y2="456.28" stroke="#000080" stroke-width="1.5"/>
<polygon points="450.6,452.8 454.08,456.28 450.6,459.76 447.12,456.28" fill="#000080"/>
<text x="459.5" y="459.85" stroke="#111" stroke-width="0.16">900V</text>
<line x1="444.4" y1="468.2" x2="456.8" y2="468.2" stroke="#ff0000" stroke-width="1.5"/>
<polygon points="447.27,468.2 453.1,464.87 453.1,471.54" fill="#ff0000"/>
<text x="459.5" y="471.77" stroke="#111" stroke-width="0.16">1100V</text>
</g>
</svg>
</body></html>
